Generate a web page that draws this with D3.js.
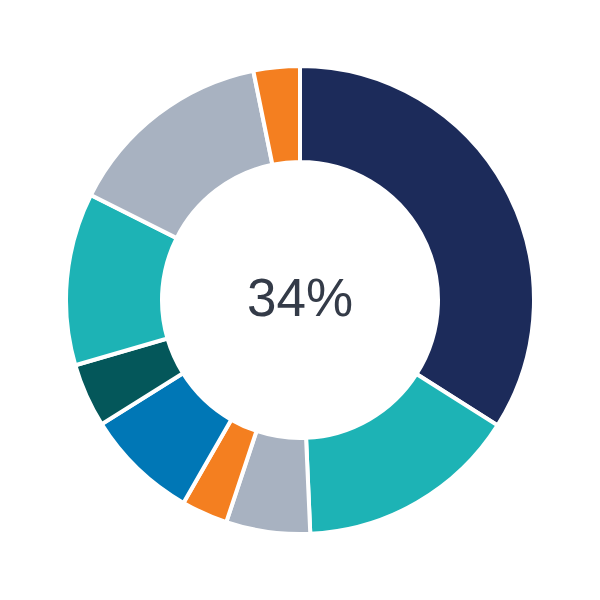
<!DOCTYPE html>
<html><head><meta charset="utf-8">
<script src="https://cdn.jsdelivr.net/npm/d3@7"></script>
<style>html,body{margin:0;padding:0;background:#fff;}</style>
</head><body>
<svg id="chart" width="600" height="600"></svg>
<script>
const categories = ["A","B","C","D","E","F","G","H","I"];
const values = [34, 15.3, 5.8, 3.2, 7.8, 4.4, 11.9, 14.4, 3.2];
const colors = ["#1c2b5a","#1db3b5","#a8b2c1","#f47f20","#0077b6","#04575a","#1db3b5","#a8b2c1","#f47f20"];
const centerLabel = "34%";

const svg = d3.select("#chart");
const g = svg.append("g").attr("transform","translate(300,300)");
const pie = d3.pie().sort(null).value(d => d.v);
const arc = d3.arc().innerRadius(138).outerRadius(234);
const data = categories.map((c,i)=>({c, v: values[i], col: colors[i]}));
g.selectAll("path").data(pie(data)).join("path")
  .attr("d", arc)
  .attr("fill", d => d.data.col)
  .attr("stroke", "#fff")
  .attr("stroke-width", 4)
  .attr("stroke-linejoin", "miter");
g.append("text").text(centerLabel)
  .attr("text-anchor","middle")
  .attr("y", 16)
  .attr("font-family","'Liberation Sans', Arial, sans-serif")
  .attr("font-size", 53)
  .attr("fill","#343b48");
</script>
</body></html>
